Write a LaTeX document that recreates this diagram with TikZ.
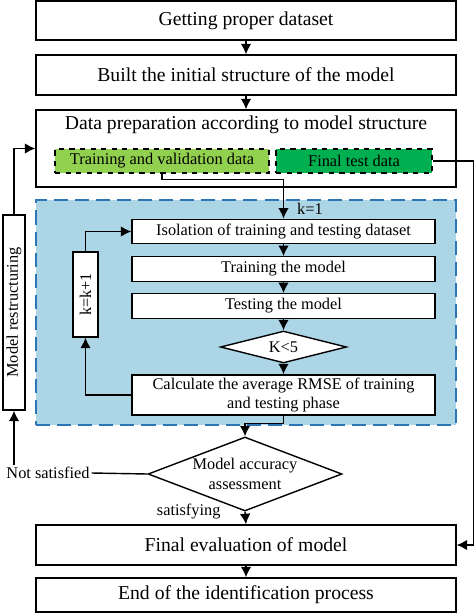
\documentclass[tikz,border=0pt]{standalone}
\usepackage{fontspec}
\setmainfont{Liberation Serif}
\usetikzlibrary{shapes.geometric,arrows.meta,positioning}
\definecolor{trainGreen}{RGB}{146,208,80}
\definecolor{testGreen}{RGB}{0,176,80}
\definecolor{loopBlue}{RGB}{172,213,229}
\definecolor{dashBlue}{RGB}{46,117,182}
\newcommand{\boxfont}{\fontsize{11.2}{13}\selectfont}
\newcommand{\stepfont}{\fontsize{9.3}{11}\selectfont}

\begin{document}
\begin{tikzpicture}[x=0.02cm, y=-0.02cm, >={Latex[length=6pt,width=6pt]},
    bigbox/.style={rectangle, draw, line width=0.8pt, fill=white, minimum width=8.4cm, font=\boxfont},
    stepbox/.style={rectangle, draw, line width=0.8pt, fill=white, minimum width=6.06cm, minimum height=0.49cm, inner sep=1pt, font=\stepfont},
    databox/.style={rectangle, draw, dashed, line width=0.8pt, minimum height=0.48cm, inner sep=1pt, font=\stepfont},
    decision/.style={diamond, draw, line width=0.8pt, fill=white, inner sep=0pt, font=\stepfont, align=center},
    sidebox/.style={rectangle, draw, line width=0.8pt, fill=white, inner sep=0pt, font=\stepfont},
    arr/.style={->, line width=0.8pt}]
        \useasboundingbox (0,0) rectangle (474,613);

        % Main steps
        \node[bigbox, minimum height=0.78cm] (get) at (246,20.5) {Getting proper dataset};
        \node[bigbox, minimum height=0.8cm] (built) at (246,75) {Built the initial structure of the model};
        \node[bigbox, minimum height=1.54cm] (prep) at (246,148.5) {};
        \node[font=\boxfont] (preptitle) at (246,125) {Data preparation according to model structure};
        \node[databox, fill=trainGreen, minimum width=4.28cm] (trval) at (162,161) {Training and validation data};
        \node[databox, fill=testGreen, minimum width=3.12cm] (ftest) at (354,161) {Final test data};

        % Cross validation loop
        \node[rectangle, draw=dashBlue, fill=loopBlue, line width=1pt, dash pattern=on 8pt off 4pt, minimum width=8.4cm, minimum height=4.5cm] (loopzone) at (246,312.5) {};
        \node[stepbox] (iso) at (283.5,231.5) {Isolation of training and testing dataset};
        \node[stepbox] (train) at (283.5,269) {Training the model};
        \node[stepbox] (test) at (283.5,306) {Testing the model};
        \node[decision, aspect=3.9, minimum width=2.52cm, minimum height=0.64cm] (kcheck) at (283.5,347) {K<5};
        \node[stepbox, minimum height=0.8cm, align=center] (calc) at (283.5,395) {Calculate the average RMSE of training\\and testing phase};
        \node[sidebox, minimum width=0.5cm, minimum height=1.7cm] (kinc) at (85.5,294.5) {\rotatebox{90}{k=k+1}};
        \node[font=\stepfont] (kone) at (310,209) {k=1};

        % Assessment
        \node[decision, aspect=2.6, minimum width=3.88cm, minimum height=1.48cm] (acc) at (245,474) {Model accuracy\\assessment};
        \node[sidebox, minimum width=0.44cm, minimum height=3.9cm] (restr) at (14,312.5) {\rotatebox{90}{Model restructuring}};
        \node[font=\stepfont, inner sep=1pt] (notsat) at (48,473) {Not satisfied};
        \node[bigbox, minimum height=0.8cm] (final) at (246,545) {Final evaluation of model};
        \node[bigbox, minimum height=0.68cm] (endp) at (246,595) {End of the identification process};

        % Arrows
        \draw[arr] (get) -- (built);
        \draw[arr] (built) -- (prep);
        \draw[arr] (trval.south) -- ++(0,6) -| (iso.north);
        \draw[arr] (ftest.east) -- ++(41,0) |- (final.east);
        \draw[arr] (iso) -- (train);
        \draw[arr] (train) -- (test);
        \draw[arr] (test) -- (kcheck);
        \draw[arr] (kcheck) -- (calc);
        \draw[arr] (calc.west) -| (kinc.south);
        \draw[arr] (kinc.north) |- (iso.west);
        \draw[arr] (calc.south) -- ++(0,8) -| (acc.north);
        \draw[line width=0.8pt] (acc.west) -- (notsat.east);
        \draw[arr] (notsat.north -| restr.south) -- (restr.south);
        \draw[arr] (restr.north) |- (prep.west);
        \draw[arr] (acc.south) -- (final.north) node[at start, left=0.36cm, font=\stepfont] (satis) {satisfying};
        \draw[arr] (final) -- (endp);
    \end{tikzpicture}
\end{document}
